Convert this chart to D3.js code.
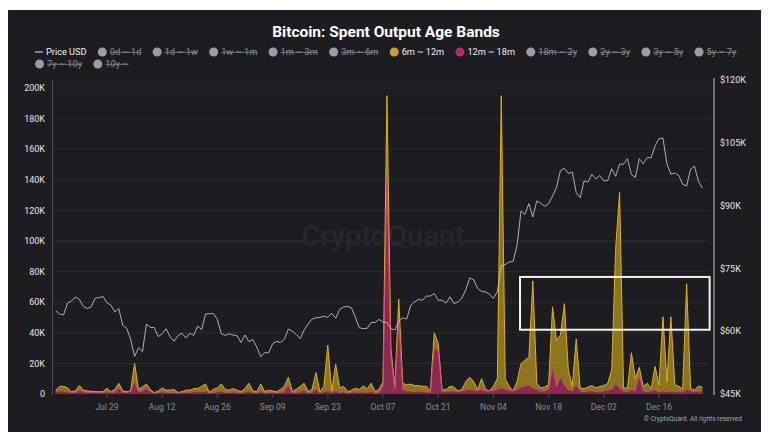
<!DOCTYPE html>
<html><head><meta charset="utf-8">
<script src="https://cdn.jsdelivr.net/npm/d3@7"></script>
<style>
html,body{margin:0;padding:0;background:#ffffff;}
svg{display:block;font-family:Roboto,"Noto Sans",sans-serif;}
</style></head><body>
<svg id="chart" width="770" height="442"></svg>
<script>
// ---------------- DATA ----------------
const startDay = "2024-07-16";
const endDay = "2024-12-27";
// BTC price, thousand USD (daily)
const priceUSD_k = [
 64.9,64.1,63.9,66.7,67.2,68.2,67.6,65.9,65.4,65.8,67.9,68.0,68.3,66.8,66.2,64.6,
 65.4,61.4,60.7,58.1,54.0,56.0,55.1,61.7,60.9,60.9,58.7,59.4,60.6,58.7,57.6,58.9,59.5,58.4,59.5,59.0,61.2,60.4,64.1,64.2,64.2,62.8,59.4,59.0,59.4,59.1,58.9,
 57.3,59.1,57.5,58.0,56.2,53.9,54.9,54.8,57.0,57.6,57.3,58.1,60.5,60.0,59.2,58.2,60.3,61.7,62.9,63.2,63.3,63.6,63.3,64.3,63.1,65.2,65.8,65.9,65.6,63.3,
 60.8,60.6,60.7,62.1,62.1,62.8,62.2,62.1,60.6,60.3,62.4,63.2,62.9,66.1,67.0,67.6,67.4,68.4,68.4,69.0,67.4,67.4,66.7,68.2,66.6,67.0,67.9,69.9,72.7,72.3,70.2,
 69.5,69.4,68.8,67.8,69.4,75.6,75.9,76.5,76.7,80.5,88.7,87.9,90.5,87.3,91.1,90.6,89.8,90.5,92.3,94.3,98.4,98.9,97.7,98.0,93.1,91.9,95.9,95.6,97.5,96.4,
 97.2,95.9,96.0,98.8,97.0,99.9,99.9,101.2,97.4,96.7,101.2,100.0,101.5,101.4,104.3,106.0,106.1,100.0,97.5,97.8,97.2,95.1,94.7,98.7,99.4,95.8,94.2
];
// Spent output 6m ~ 12m, thousand BTC
const band6m12m_k = [
 2.5,5,5,4,1.5,2,5.5,2.5,2,1.8,1.5,1.5,1.5,3.7,1.5,3,7,2,1.5,2,
 20,3,4.5,6.5,3,0.8,2,4,2.5,2.5,3,1,1.5,2.5,2.5,3.5,3.5,5,6.5,1,
 3,4,6.5,3,2.5,3.5,2.5,1.5,3.5,7,2,1.5,6.5,1.5,2.5,2,1.5,3,5,11,
 1.5,3,5,7,1.5,3,14,1.5,5,32,2,19.5,4,5,1.5,2.5,3.7,3,5.2,3.5,
 7,1.5,3,8,195,30,5,62,7,6,6.5,5.5,5.5,5,5,2,40,33,2.5,3,
 5,4.5,2,3,8,11,8,3,10,3,2,5,10,195,10,5,2,8,20,22,
 24,74,7,4,4.5,6,57,35,38.6,59,15.7,5,36,4,3.5,4.5,5.5,4,5,5.5,
 7,15.7,95,132,4,4,27,10,17.4,4.8,7,3.5,18,6,50.5,8,50.5,6,5,3.5,
 72,3.7,2.6,5.2,4.4
];
// Spent output 12m ~ 18m, thousand BTC
const band12m18m_k = [
 1.5,2,2,1.5,1,1,2.5,1.5,1,1,1,1,1,1.5,1,1,4,1,1,1.5,
 8.5,1.5,2,4,1.5,0.5,1,1.5,1,1,1,0.5,1,1,1,1.5,1.5,1.5,2,0.5,
 1,1.5,2,1,1,1.5,1,0.5,1.5,2,1,0.5,2,0.5,1,1,0.5,1,1.5,6,
 0.5,1,1.5,2.5,0.5,1,3.5,0.5,1.5,2,1,2,1,1.5,0.5,1,1.5,1,1.5,1,
 2,0.5,1,5,140,25,3,48,3,2,2,1.5,2,1.5,1.5,1,30,28,1.5,1.5,
 2,2,1.5,2,2.5,3,2.5,2,3,2,2,2.5,3,4,3,2.5,2,3,4.5,5,
 6,4,3,2,2,3,18,4.8,11,6,3,2,6,2,1.5,2,2,1.5,1.5,2,
 2.5,3,6.5,4,2,1.5,3,2,11.8,2,1.5,2,2.5,1.5,2,1.5,2,1.5,1.5,1.5,
 3,2,1.5,2,2
];
const leftTicks = [0,20,40,60,80,100,120,140,160,180,200];
const rightTicks = [45,60,75,90,105,120];
const xTickDates = ["2024-07-29","2024-08-12","2024-08-26","2024-09-09","2024-09-23","2024-10-07","2024-10-21","2024-11-04","2024-11-18","2024-12-02","2024-12-16"];
const legendNames = ["Price USD","0d ~ 1d","1d ~ 1w","1w ~ 1m","1m ~ 3m","3m ~ 6m","6m ~ 12m","12m ~ 18m","18m ~ 2y","2y ~ 3y","3y ~ 5y","5y ~ 7y","7y ~ 10y","10y ~"];
const legendActive = ["Price USD","6m ~ 12m","12m ~ 18m"];
// highlighted region (date range, left-axis value range in K)
const boxDates = ["2024-11-10T18:00:00Z","2024-12-28T20:00:00Z"];
const boxValues = [42, 76.5];

// ---------------- STYLE ----------------
const BG = "#1c1c21", GRID = "#2b2b31";
const GOLD = "#c9a21d", GOLD_LINE = "#dcb21c";
const MAG = "#8a2458", MAG_LINE = "#d8407c";
const PRICE = "#c9c9cc";

const svg = d3.select("#chart");
svg.append("rect").attr("x",8).attr("y",10).attr("width",753).attr("height",422).attr("fill",BG);

const parseDay = d3.utcParse("%Y-%m-%d");
const dates = d3.utcDay.range(parseDay(startDay), d3.utcDay.offset(parseDay(endDay),1));

const x = d3.scaleUtc().domain([dates[0], dates[dates.length-1]]).range([55.7, 702.4]);
const yL = d3.scaleLinear().domain([0,200]).range([394,88]);
const yR = d3.scaleLinear().domain([45,120]).range([394,80]);

// grid
svg.append("g").selectAll("line").data(leftTicks.slice(1)).join("line")
  .attr("x1",55).attr("x2",710).attr("y1",d=>yL(d)).attr("y2",d=>yL(d))
  .attr("stroke",GRID).attr("stroke-width",1);

// axes lines
svg.append("line").attr("x1",52.5).attr("x2",52.5).attr("y1",80).attr("y2",395).attr("stroke","#4a4a52").attr("stroke-width",1);
svg.append("line").attr("x1",714).attr("x2",714).attr("y1",78).attr("y2",395).attr("stroke","#8a8a90").attr("stroke-width",1.5);

// left axis labels
svg.append("g").selectAll("text").data(leftTicks).join("text")
  .attr("x",45).attr("y",d=>yL(d)+3.2).attr("text-anchor","end")
  .attr("fill","#e6e6e6").attr("font-size",9).text(d=>d===0?"0":d+"K");
// right axis labels
svg.append("g").selectAll("text").data(rightTicks).join("text")
  .attr("x",720).attr("y",d=>yR(d)+3.2).attr("text-anchor","start")
  .attr("fill","#e6e6e6").attr("font-size",9).text(d=>"$"+d+"K");

// x axis ticks
const xt = xTickDates.map(parseDay);
const fmt = d3.utcFormat("%b %d");
const xg = svg.append("g");
xg.selectAll("line").data(xt).join("line")
  .attr("x1",d=>x(d)).attr("x2",d=>x(d)).attr("y1",394).attr("y2",398)
  .attr("stroke","#4a4a52");
xg.selectAll("text").data(xt).join("text")
  .attr("x",d=>x(d)).attr("y",410).attr("text-anchor","middle")
  .attr("fill","#8c8c92").attr("font-size",8.5).text(d=>fmt(d));

// watermark
svg.append("text").attr("x",383).attr("y",246).attr("text-anchor","middle")
  .attr("font-size",29).attr("font-weight",500).attr("fill","#27272d").text("CryptoQuant");

// areas
const aGold = d3.area().x((d,i)=>x(dates[i])).y0(yL(0)).y1(d=>yL(d));
const lGold = d3.line().x((d,i)=>x(dates[i])).y(d=>yL(d));
svg.append("path").datum(band6m12m_k).attr("d",aGold).attr("fill",GOLD).attr("fill-opacity",0.66);
svg.append("path").datum(band12m18m_k).attr("d",aGold).attr("fill",MAG).attr("fill-opacity",0.92);
svg.append("path").datum(band6m12m_k).attr("d",lGold).attr("fill","none").attr("stroke",GOLD_LINE).attr("stroke-width",1);
svg.append("path").datum(band12m18m_k).attr("d",lGold).attr("fill","none").attr("stroke",MAG_LINE).attr("stroke-width",0.9);

// price line
const lPrice = d3.line().x((d,i)=>x(dates[i])).y(d=>yR(d));
svg.append("path").datum(priceUSD_k).attr("d",lPrice).attr("fill","none").attr("stroke",PRICE).attr("stroke-width",0.85);

// highlight box
const bx0 = x(new Date(boxDates[0])), bx1 = x(new Date(boxDates[1]));
svg.append("rect").attr("x",bx0).attr("y",yL(boxValues[1])).attr("width",bx1-bx0)
  .attr("height",yL(boxValues[0])-yL(boxValues[1]))
  .attr("fill","none").attr("stroke","#f2f2f2").attr("stroke-width",2);

// title
svg.append("text").attr("x",386).attr("y",37).attr("text-anchor","middle")
  .attr("fill","#ffffff").attr("font-size",15.5).attr("font-weight",700)
  .text("Bitcoin: Spent Output Age Bands");

// legend
const legendColor = {"6m ~ 12m":GOLD,"12m ~ 18m":"#b8286a"};
const leg = svg.append("g");
let lx = 35, ly = 52;
legendNames.forEach(name=>{
  const active = legendActive.includes(name);
  const g = leg.append("g");
  let tx;
  if(name==="Price USD"){
    g.append("line").attr("x1",0).attr("x2",8).attr("y1",0).attr("y2",0).attr("stroke","#e6e6e6").attr("stroke-width",1);
    tx = 11;
  } else {
    g.append("circle").attr("cx",4.5).attr("cy",0).attr("r",4.5).attr("fill",active?legendColor[name]:"#9c9ca4");
    tx = 12;
  }
  const t = g.append("text").attr("x",tx).attr("y",3.3).attr("font-size",9.2)
    .attr("fill",active?"#f0f0f0":"#8e8e94").text(name);
  const w = t.node().getComputedTextLength();
  if(!active){
    g.append("line").attr("x1",tx).attr("x2",tx+w).attr("y1",0.3).attr("y2",0.3).attr("stroke","#8e8e94").attr("stroke-width",0.8);
  }
  const total = tx + w;
  if(lx + total > 752){ lx = 35; ly += 12; }
  g.attr("transform",`translate(${lx},${ly})`);
  lx += total + 11.3;
});

// copyright
svg.append("text").attr("x",742).attr("y",421).attr("text-anchor","end")
  .attr("font-size",6.5).attr("fill","#a8a8ae").text("© CryptoQuant. All rights reserved");
</script>
</body></html>
